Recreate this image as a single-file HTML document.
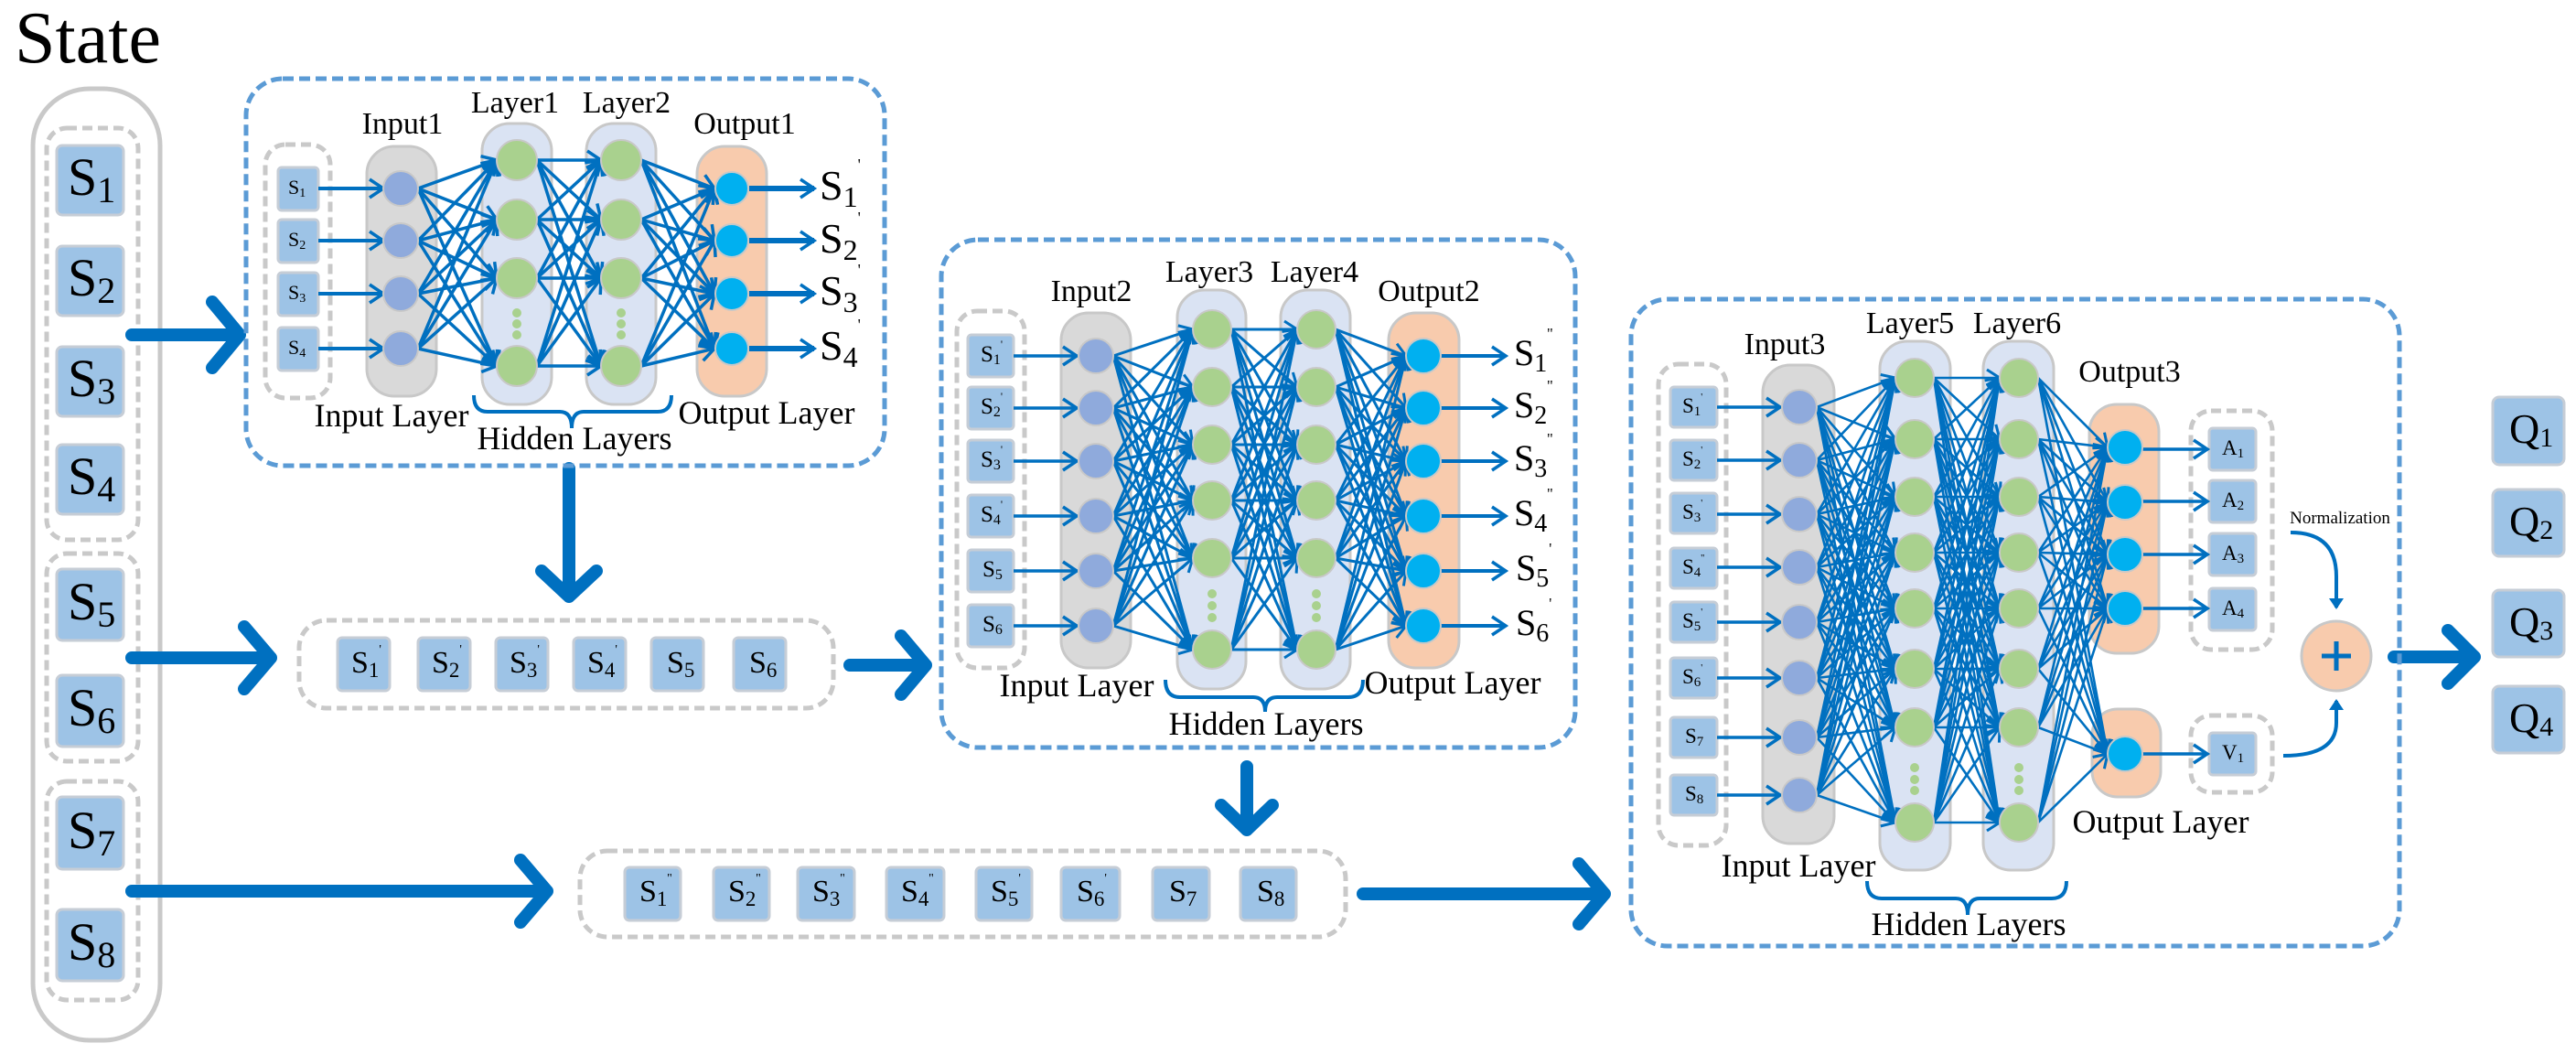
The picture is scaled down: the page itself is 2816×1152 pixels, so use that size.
<!DOCTYPE html>
<html><head><meta charset="utf-8">
<style>
html,body{margin:0;padding:0;background:#fff;}
svg, svg text{font-family:"Liberation Serif","DejaVu Serif",serif;}
</style></head>
<body>
<svg id="s" width="2816" height="1147" viewBox="0 0 2816 1147" xmlns="http://www.w3.org/2000/svg" font-family="Liberation Serif, DejaVu Serif, serif">
<defs>
<marker id="ah" markerUnits="userSpaceOnUse" markerWidth="22" markerHeight="26" refX="18" refY="12" orient="auto">
<path d="M3,2 L18,12 L3,22" fill="none" stroke="#0070c0" stroke-width="3.5"/>
</marker>
<marker id="ahs" markerUnits="userSpaceOnUse" markerWidth="22" markerHeight="26" refX="18" refY="12" orient="auto">
<path d="M4,3 L18,12 L4,21" fill="none" stroke="#0070c0" stroke-width="3"/>
</marker>
<marker id="tri" markerUnits="userSpaceOnUse" markerWidth="20" markerHeight="20" refX="10" refY="10" orient="auto">
<path d="M0,2 L12,10 L0,18 Z" fill="#0070c0"/>
</marker>
</defs>

<!-- State -->
<text x="16" y="68" font-size="80">State</text>
<rect x="36" y="97" width="139" height="1040" rx="62" fill="none" stroke="#c9c9c9" stroke-width="5"/>
<g fill="none" stroke="#c9c9c9" stroke-width="5" stroke-dasharray="11,6">
<rect x="51" y="140" width="100" height="450" rx="22"/>
<rect x="51" y="605" width="100" height="227" rx="22"/>
<rect x="51" y="854" width="100" height="239" rx="22"/>
</g>
<g fill="#9dc3e6" stroke="#c6cdd6" stroke-width="3">
<rect x="62" y="159" width="73" height="76" rx="6"/>
<rect x="62" y="269" width="73" height="76" rx="6"/>
<rect x="62" y="379" width="73" height="76" rx="6"/>
<rect x="62" y="486" width="73" height="76" rx="6"/>
<rect x="62" y="622" width="73" height="78" rx="6"/>
<rect x="62" y="738" width="73" height="78" rx="6"/>
<rect x="62" y="871" width="73" height="79" rx="6"/>
<rect x="62" y="994" width="73" height="78" rx="6"/>
</g>
<g font-size="58">
<text x="74" y="213">S<tspan font-size="40" dy="8">1</tspan></text>
<text x="74" y="323">S<tspan font-size="40" dy="8">2</tspan></text>
<text x="74" y="433">S<tspan font-size="40" dy="8">3</tspan></text>
<text x="74" y="540">S<tspan font-size="40" dy="8">4</tspan></text>
<text x="74" y="677">S<tspan font-size="40" dy="8">5</tspan></text>
<text x="74" y="793">S<tspan font-size="40" dy="8">6</tspan></text>
<text x="74" y="927">S<tspan font-size="40" dy="8">7</tspan></text>
<text x="74" y="1049">S<tspan font-size="40" dy="8">8</tspan></text>
</g>

<!-- big arrows -->
<g fill="none" stroke="#0070c0" stroke-width="14" stroke-linecap="round" stroke-linejoin="round">
<path d="M144,366 L262,366 M232,330 L262,366 L232,402"/>
<path d="M144,719 L296,719 M267,685 L296,719 L267,753"/>
<path d="M144,974 L598,974 M569,940 L598,974 L569,1008"/>
<path d="M622,512 L622,652 M592,624 L622,652 L652,624"/>
<path d="M929,727 L1012,727 M985,695 L1012,727 L985,759"/>
<path d="M1363,838 L1363,907 M1335,880 L1363,907 L1391,880"/>
<path d="M1490,977 L1754,977 M1726,944 L1754,977 L1726,1010"/>
<path d="M2617,718 L2705,718 M2676,689 L2705,718 L2676,747"/>
</g>

<!-- dashed blue boxes -->
<g fill="none" stroke="#5b9bd5" stroke-width="5" stroke-dasharray="12,6">
<rect x="269" y="86" width="698" height="423" rx="40"/>
<rect x="1029" y="262" width="693" height="555" rx="40"/>
<rect x="1783" y="327" width="840" height="707" rx="40"/>
</g>

<!-- middle row -->
<rect x="327" y="678" width="584" height="96" rx="30" fill="none" stroke="#c9c9c9" stroke-width="5" stroke-dasharray="11,6"/>
<g fill="#9dc3e6" stroke="#c6cdd6" stroke-width="3">
<rect x="369" y="697" width="57" height="58" rx="5"/>
<rect x="457" y="697" width="57" height="58" rx="5"/>
<rect x="542" y="697" width="57" height="58" rx="5"/>
<rect x="627" y="697" width="57" height="58" rx="5"/>
<rect x="712" y="697" width="57" height="58" rx="5"/>
<rect x="802" y="697" width="57" height="58" rx="5"/>
</g>
<g font-size="34">
<text x="384" y="735">S<tspan font-size="23" dy="5">1</tspan><tspan font-size="14" dy="-26">'</tspan></text>
<text x="472" y="735">S<tspan font-size="23" dy="5">2</tspan><tspan font-size="14" dy="-26">'</tspan></text>
<text x="557" y="735">S<tspan font-size="23" dy="5">3</tspan><tspan font-size="14" dy="-26">'</tspan></text>
<text x="642" y="735">S<tspan font-size="23" dy="5">4</tspan><tspan font-size="14" dy="-26">'</tspan></text>
<text x="729" y="735">S<tspan font-size="23" dy="5">5</tspan></text>
<text x="819" y="735">S<tspan font-size="23" dy="5">6</tspan></text>
</g>

<!-- bottom row -->
<rect x="634" y="930" width="837" height="94" rx="30" fill="none" stroke="#c9c9c9" stroke-width="5" stroke-dasharray="11,6"/>
<g fill="#9dc3e6" stroke="#c6cdd6" stroke-width="3">
<rect x="683" y="948" width="61" height="58" rx="5"/>
<rect x="780" y="948" width="61" height="58" rx="5"/>
<rect x="872" y="948" width="62" height="58" rx="5"/>
<rect x="969" y="948" width="63" height="58" rx="5"/>
<rect x="1067" y="948" width="61" height="58" rx="5"/>
<rect x="1160" y="948" width="64" height="58" rx="5"/>
<rect x="1260" y="948" width="62" height="58" rx="5"/>
<rect x="1356" y="948" width="61" height="58" rx="5"/>
</g>
<g font-size="34">
<text x="699" y="985">S<tspan font-size="23" dy="5">1</tspan><tspan font-size="14" dy="-26">''</tspan></text>
<text x="796" y="985">S<tspan font-size="23" dy="5">2</tspan><tspan font-size="14" dy="-26">''</tspan></text>
<text x="888" y="985">S<tspan font-size="23" dy="5">3</tspan><tspan font-size="14" dy="-26">''</tspan></text>
<text x="985" y="985">S<tspan font-size="23" dy="5">4</tspan><tspan font-size="14" dy="-26">''</tspan></text>
<text x="1083" y="985">S<tspan font-size="23" dy="5">5</tspan><tspan font-size="14" dy="-26">'</tspan></text>
<text x="1177" y="985">S<tspan font-size="23" dy="5">6</tspan><tspan font-size="14" dy="-26">'</tspan></text>
<text x="1278" y="985">S<tspan font-size="23" dy="5">7</tspan></text>
<text x="1374" y="985">S<tspan font-size="23" dy="5">8</tspan></text>
</g>

<!-- pills -->
<g stroke="#c8c8c8" stroke-width="3">
<rect x="401" y="160" width="76" height="273" rx="30" fill="#d9d9d9"/>
<rect x="527" y="135" width="76" height="307" rx="30" fill="#dae3f3"/>
<rect x="641" y="135" width="76" height="307" rx="30" fill="#dae3f3"/>
<rect x="762" y="160" width="76" height="273" rx="30" fill="#f8cbad"/>

<rect x="1160" y="342" width="76" height="388" rx="30" fill="#d9d9d9"/>
<rect x="1287" y="317" width="75" height="436" rx="30" fill="#dae3f3"/>
<rect x="1400" y="317" width="76" height="436" rx="30" fill="#dae3f3"/>
<rect x="1518" y="342" width="77" height="388" rx="30" fill="#f8cbad"/>

<rect x="1927" y="399" width="78" height="523" rx="30" fill="#d9d9d9"/>
<rect x="2055" y="373" width="77" height="578" rx="30" fill="#dae3f3"/>
<rect x="2168" y="373" width="77" height="578" rx="30" fill="#dae3f3"/>
<rect x="2284" y="442" width="76" height="272" rx="30" fill="#f8cbad"/>
<rect x="2287" y="775" width="75" height="96" rx="28" fill="#f8cbad"/>
</g>

<!-- input groups -->
<g fill="none" stroke="#c9c9c9" stroke-width="5" stroke-dasharray="11,6">
<rect x="290" y="158" width="71" height="277" rx="22"/>
<rect x="1046" y="340" width="74" height="390" rx="22"/>
<rect x="1813" y="398" width="74" height="526" rx="22"/>
<rect x="2395" y="449" width="89" height="261" rx="22"/>
<rect x="2395" y="782" width="89" height="84" rx="22"/>
</g>

<g fill="#9dc3e6" stroke="#c6cdd6" stroke-width="3">
<rect x="304" y="183" width="44" height="47" rx="4"/>
<rect x="304" y="240" width="44" height="47" rx="4"/>
<rect x="304" y="298" width="44" height="47" rx="4"/>
<rect x="304" y="358" width="44" height="47" rx="4"/>

<rect x="1058" y="366" width="50" height="46" rx="4"/>
<rect x="1058" y="423" width="50" height="46" rx="4"/>
<rect x="1058" y="481" width="50" height="46" rx="4"/>
<rect x="1058" y="541" width="50" height="46" rx="4"/>
<rect x="1058" y="601" width="50" height="46" rx="4"/>
<rect x="1058" y="661" width="50" height="46" rx="4"/>

<rect x="1826" y="423" width="51" height="44" rx="4"/>
<rect x="1826" y="481" width="51" height="44" rx="4"/>
<rect x="1826" y="539" width="51" height="44" rx="4"/>
<rect x="1826" y="599" width="51" height="44" rx="4"/>
<rect x="1826" y="658" width="51" height="44" rx="4"/>
<rect x="1826" y="719" width="51" height="44" rx="4"/>
<rect x="1826" y="784" width="51" height="44" rx="4"/>
<rect x="1826" y="847" width="51" height="44" rx="4"/>

<rect x="2415" y="468" width="51" height="46" rx="4"/>
<rect x="2415" y="525" width="51" height="46" rx="4"/>
<rect x="2415" y="583" width="51" height="46" rx="4"/>
<rect x="2415" y="643" width="51" height="46" rx="4"/>
<rect x="2415" y="801" width="51" height="46" rx="4"/>

<rect x="2725" y="434" width="78" height="74" rx="7"/>
<rect x="2725" y="535" width="78" height="73" rx="7"/>
<rect x="2725" y="645" width="78" height="73" rx="7"/>
<rect x="2725" y="750" width="78" height="73" rx="7"/>
</g>

<g font-size="22">
<text x="315" y="212">S<tspan font-size="14" dy="3">1</tspan></text>
<text x="315" y="269">S<tspan font-size="14" dy="3">2</tspan></text>
<text x="315" y="327">S<tspan font-size="14" dy="3">3</tspan></text>
<text x="315" y="387">S<tspan font-size="14" dy="3">4</tspan></text>
</g>
<g font-size="25">
<text x="1072" y="395">S<tspan font-size="16" dy="3">1</tspan><tspan font-size="12" dy="-18">'</tspan></text>
<text x="1072" y="452">S<tspan font-size="16" dy="3">2</tspan><tspan font-size="12" dy="-18">'</tspan></text>
<text x="1072" y="510">S<tspan font-size="16" dy="3">3</tspan><tspan font-size="12" dy="-18">'</tspan></text>
<text x="1072" y="570">S<tspan font-size="16" dy="3">4</tspan><tspan font-size="12" dy="-18">'</tspan></text>
<text x="1074" y="630">S<tspan font-size="16" dy="3">5</tspan></text>
<text x="1074" y="690">S<tspan font-size="16" dy="3">6</tspan></text>
</g>
<g font-size="23">
<text x="1839" y="451">S<tspan font-size="15" dy="3">1</tspan><tspan font-size="11" dy="-17">'</tspan></text>
<text x="1839" y="509">S<tspan font-size="15" dy="3">2</tspan><tspan font-size="11" dy="-17">'</tspan></text>
<text x="1839" y="567">S<tspan font-size="15" dy="3">3</tspan><tspan font-size="11" dy="-17">'</tspan></text>
<text x="1839" y="627">S<tspan font-size="15" dy="3">4</tspan><tspan font-size="11" dy="-17">''</tspan></text>
<text x="1839" y="686">S<tspan font-size="15" dy="3">5</tspan><tspan font-size="11" dy="-17">'</tspan></text>
<text x="1839" y="747">S<tspan font-size="15" dy="3">6</tspan><tspan font-size="11" dy="-17">'</tspan></text>
<text x="1842" y="812">S<tspan font-size="15" dy="3">7</tspan></text>
<text x="1842" y="875">S<tspan font-size="15" dy="3">8</tspan></text>
<text x="2429" y="497">A<tspan font-size="15" dy="3">1</tspan></text>
<text x="2429" y="554">A<tspan font-size="15" dy="3">2</tspan></text>
<text x="2429" y="612">A<tspan font-size="15" dy="3">3</tspan></text>
<text x="2429" y="672">A<tspan font-size="15" dy="3">4</tspan></text>
<text x="2429" y="830">V<tspan font-size="15" dy="3">1</tspan></text>
</g>
<g font-size="46">
<text x="2743" y="484">Q<tspan font-size="30" dy="4">1</tspan></text>
<text x="2743" y="585">Q<tspan font-size="30" dy="4">2</tspan></text>
<text x="2743" y="695">Q<tspan font-size="30" dy="4">3</tspan></text>
<text x="2743" y="800">Q<tspan font-size="30" dy="4">4</tspan></text>
</g>

<g id="lines"></g>
<g id="nodes"></g>

<!-- output labels -->
<g font-size="46">
<text x="896" y="218">S<tspan font-size="32" dy="8">1</tspan><tspan font-size="18" dy="-40">'</tspan></text>
<text x="896" y="276">S<tspan font-size="32" dy="8">2</tspan><tspan font-size="18" dy="-40">'</tspan></text>
<text x="896" y="333">S<tspan font-size="32" dy="8">3</tspan><tspan font-size="18" dy="-40">'</tspan></text>
<text x="896" y="393">S<tspan font-size="32" dy="8">4</tspan><tspan font-size="18" dy="-40">'</tspan></text>
</g>
<g font-size="40">
<text x="1655" y="399">S<tspan font-size="28" dy="7">1</tspan><tspan font-size="17" dy="-36">''</tspan></text>
<text x="1655" y="456">S<tspan font-size="28" dy="7">2</tspan><tspan font-size="17" dy="-36">''</tspan></text>
<text x="1655" y="514">S<tspan font-size="28" dy="7">3</tspan><tspan font-size="17" dy="-36">''</tspan></text>
<text x="1655" y="574">S<tspan font-size="28" dy="7">4</tspan><tspan font-size="17" dy="-36">''</tspan></text>
<text x="1657" y="634">S<tspan font-size="28" dy="7">5</tspan><tspan font-size="17" dy="-36">'</tspan></text>
<text x="1657" y="694">S<tspan font-size="28" dy="7">6</tspan><tspan font-size="17" dy="-36">'</tspan></text>
</g>

<!-- titles -->
<g font-size="34" text-anchor="middle">
<text x="440" y="146">Input1</text>
<text x="563" y="123">Layer1</text>
<text x="685" y="123">Layer2</text>
<text x="814" y="146">Output1</text>
<text x="1193" y="329">Input2</text>
<text x="1322" y="308">Layer3</text>
<text x="1437" y="308">Layer4</text>
<text x="1562" y="329">Output2</text>
<text x="1951" y="387">Input3</text>
<text x="2088" y="364">Layer5</text>
<text x="2205" y="364">Layer6</text>
<text x="2328" y="417">Output3</text>
</g>
<g font-size="36" text-anchor="middle">
<text x="428" y="466">Input Layer</text>
<text x="838" y="463">Output Layer</text>
<text x="628" y="491">Hidden Layers</text>
<text x="1177" y="761">Input Layer</text>
<text x="1588" y="758">Output Layer</text>
<text x="1384" y="803">Hidden Layers</text>
<text x="1966" y="958">Input Layer</text>
<text x="2362" y="910">Output Layer</text>
<text x="2152" y="1022">Hidden Layers</text>
</g>
<text x="2558" y="572" font-size="19" text-anchor="middle">Normalization</text>

<!-- braces -->
<g fill="none" stroke="#0070c0" stroke-width="4">
<path d="M518,432 Q518,450 533,450 L612,450 Q625,450 625,468 Q625,450 638,450 L719,450 Q734,450 734,432"/>
<path d="M1274,743 Q1274,762 1290,762 L1370,762 Q1383,762 1383,778 Q1383,762 1396,762 L1474,762 Q1490,762 1490,743"/>
<path d="M2041,963 Q2041,982 2057,982 L2138,982 Q2151,982 2151,1000 Q2151,982 2164,982 L2243,982 Q2259,982 2259,963"/>
</g>

<!-- plus / normalization -->
<circle cx="2554" cy="717" r="38" fill="#f8cbad" stroke="#c8c8c8" stroke-width="3"/>
<path d="M2538,717 L2570,717 M2554,701 L2554,733" stroke="#0070c0" stroke-width="5"/>
<g fill="none" stroke="#0070c0" stroke-width="4">
<path d="M2504,582 Q2554,582 2554,630 L2554,664" marker-end="url(#tri)"/>
<path d="M2496,826 Q2554,826 2554,790 L2554,766" marker-end="url(#tri)"/>
</g>

<script>
(function(){
var NS="http://www.w3.org/2000/svg";
var L=document.getElementById("lines"),N=document.getElementById("nodes");
function ln(x1,y1,x2,y2,w,m){var e=document.createElementNS(NS,"line");e.setAttribute("x1",x1);e.setAttribute("y1",y1);e.setAttribute("x2",x2);e.setAttribute("y2",y2);e.setAttribute("stroke","#0070c0");e.setAttribute("stroke-width",w);if(m)e.setAttribute("marker-end","url(#"+m+")");L.appendChild(e);}
function ci(x,y,r,f){var e=document.createElementNS(NS,"circle");e.setAttribute("cx",x);e.setAttribute("cy",y);e.setAttribute("r",r);e.setAttribute("fill",f);e.setAttribute("stroke","#c8c8c8");e.setAttribute("stroke-width","2");N.appendChild(e);}
function full(ax,ays,ar,bx,bys,br,w,m){ays.forEach(function(a){bys.forEach(function(b){ln(ax+ar,a,bx-br,b,w,m);});});}
function dots(x,ys){ys.forEach(function(y){var e=document.createElementNS(NS,"circle");e.setAttribute("cx",x);e.setAttribute("cy",y);e.setAttribute("r",5);e.setAttribute("fill","#a9d18e");N.appendChild(e);});}
var i1=[206,263,321,381],h1=[175,240,304,400];
i1.forEach(function(y){ln(348,y,419,y,4,"ah");});
full(438,i1,19,565,h1,22,3.5,"ah");full(565,h1,22,679,h1,22,3.5,"ah");full(679,h1,22,800,i1,19,3.5,"ah");
i1.forEach(function(y){ln(819,y,890,y,6,"ah");});
i1.forEach(function(y){ci(438,y,19,"#8faadc");});h1.forEach(function(y){ci(565,y,22,"#a9d18e");ci(679,y,22,"#a9d18e");});i1.forEach(function(y){ci(800,y,18,"#00b0f0");});
dots(565,[342,354,366]);dots(679,[342,354,366]);
var i2=[389,446,504,564,624,684],h2=[360,423,486,547,610,710];
i2.forEach(function(y){ln(1108,y,1177,y,3.5,"ah");});
full(1198,i2,19,1325,h2,21,3,"ahs");full(1325,h2,21,1439,h2,21,3,"ahs");full(1439,h2,21,1556,i2,19,3,"ahs");
i2.forEach(function(y){ln(1575,y,1646,y,4,"ah");});
i2.forEach(function(y){ci(1198,y,19,"#8faadc");});h2.forEach(function(y){ci(1325,y,21,"#a9d18e");ci(1439,y,21,"#a9d18e");});i2.forEach(function(y){ci(1556,y,19,"#00b0f0");});
dots(1325,[649,662,675]);dots(1439,[649,662,675]);
var i3=[445,503,562,620,680,741,806,869],h3=[413,480,543,604,665,731,795,899],o3=[489,549,606,665,824];
i3.forEach(function(y){ln(1877,y,1946,y,3.5,"ah");});
full(1967,i3,19,2093,h3,21,2.6,"ahs");full(2093,h3,21,2207,h3,21,2.6,"ahs");full(2207,h3,21,2323,o3,19,2.6,"ahs");
[491,548,606,665,824].forEach(function(y){ln(2342,y,2413,y,3.5,"ah");});
i3.forEach(function(y){ci(1967,y,19,"#8faadc");});h3.forEach(function(y){ci(2093,y,21,"#a9d18e");ci(2207,y,21,"#a9d18e");});o3.forEach(function(y){ci(2323,y,19,"#00b0f0");});
dots(2093,[839,852,864]);dots(2207,[839,852,864]);
})();
</script>
</svg>
</body></html>
